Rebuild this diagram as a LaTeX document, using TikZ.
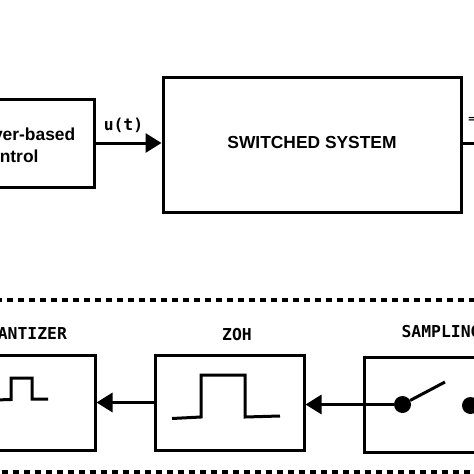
\documentclass[tikz,border=0pt]{standalone}
\usepackage{fontspec}
\setmainfont{Liberation Sans}
\setmonofont{DejaVu Sans Mono}
\usetikzlibrary{arrows.meta}
\tikzset{block/.style={draw=black,line width=3pt,fill=none},
    wire/.style={draw=black,line width=3pt},
    flow/.style={wire,-{Triangle[length=16pt,width=19pt]}},
    sep/.style={draw=black,dash pattern=on 6.5pt off 4.5pt},
    swdot/.style={circle,fill=black,minimum size=17pt,inner sep=0pt},
    title/.style={font=\bfseries\fontsize{17.4}{22}\selectfont,align=center},
    mono/.style={font=\ttfamily\bfseries\fontsize{16.4}{20}\selectfont}}
\begin{document}
\begin{tikzpicture}[x=1pt,y=-1pt]
    \useasboundingbox (0,0) rectangle (474,474);
    \clip (0,0) rectangle (474,474);

    %top row
    \node [block,minimum width=168pt,minimum height=88pt] (control) at (10,143) {};
    \node [title] (controltext) at (9,145) {Observer-based\\control};
    \node [block,minimum width=298pt,minimum height=135pt] (system) at (312,144.5) {};
    \node [title] (systemtext) at (312,143) {SWITCHED SYSTEM};
    \coordinate (out) at (490,143);
    \draw [flow] (control.east |- 0,143) -- (system.west |- 0,143);
    \node [mono] (ulabel) at (123.5,125.5) {u(t)};
    \draw [wire] (system.east |- out) -- (out);
    \node [font=\ttfamily\bfseries\fontsize{10.5}{12}\selectfont] (ylabel) at (471.5,119.5) {=};

    %dashed frame
    \coordinate (topa) at (-4.4,300);
    \coordinate (topb) at (480,300);
    \coordinate (bota) at (-9.3,472);
    \coordinate (botb) at (480,472);
    \draw [sep,line width=3.5pt] (topa) -- (topb);
    \draw [sep,line width=5pt] (bota) -- (botb);

    %bottom row
    \node [block,minimum width=190pt,minimum height=95pt] (quant) at (0,402.5) {};
    \node [block,minimum width=149pt,minimum height=95pt] (zoh) at (229.5,402.5) {};
    \node [block,minimum width=190pt,minimum height=95pt] (samp) at (459,405) {};
    \node [mono,anchor=east] (quantlabel) at (70.5,335) {QUANTIZER};
    \node [mono] (zohlabel) at (237,335) {ZOH};
    \node [mono,anchor=west] (samplabel) at (398,332) {SAMPLING};

    %switch
    \node [swdot] (swa) at (402.5,404.5) {};
    \node [swdot] (swb) at (470.5,405.5) {};
    \coordinate (swend) at (445,382);
    \draw [wire] (swa) -- (swend);
    \draw [flow] (swa) -- (zoh.east |- swa);
    \draw [flow] (zoh.west) -- (quant.east);

    %pulses
    \draw [wire] (172,418.5) -- (201,417) -- (201,375) -- (245,375) -- (245,417) -- (280,416);
    \draw [wire] (-5,400) -- (11,399.5) -- (11,378) -- (32,378) -- (32,399) -- (48,399);
\end{tikzpicture}
\end{document}
